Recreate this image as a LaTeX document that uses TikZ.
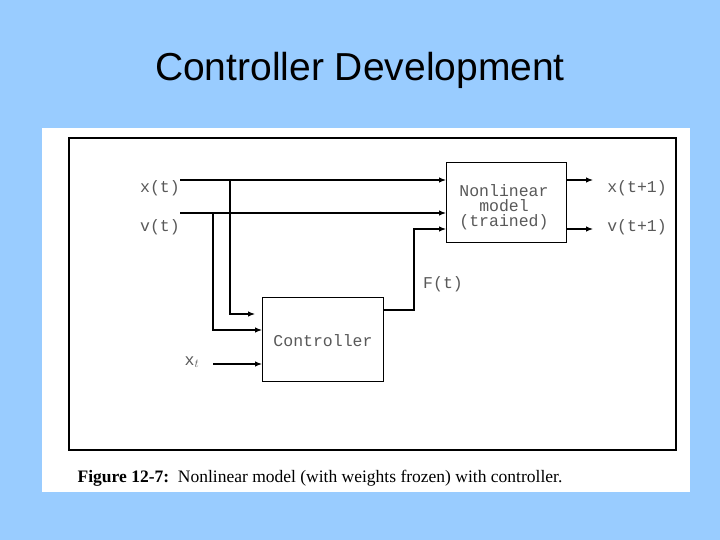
\documentclass[tikz,border=0pt]{standalone}
\usepackage{fontspec}
\setmainfont{Liberation Serif}
\setsansfont{Liberation Sans}
\setmonofont{Liberation Mono}
\usetikzlibrary{arrows.meta}
\begin{document}
\begin{tikzpicture}[x=1pt,y=-1pt,
  blk/.style={draw,line width=1.2pt,inner sep=0pt,anchor=north west},
  lbl/.style={font=\ttfamily\fontsize{16.5}{18}\selectfont,text=black!65},
  con/.style={line width=1.1pt,-{Latex[length=7pt,width=5.5pt]}}]
\fill[fill={rgb,255:red,153;green,204;blue,255}] (0,0) rectangle (720,540);
\useasboundingbox (0,0) rectangle (720,540);
\fill[white] (42,128) rectangle (690,492);
\draw[line width=1.2pt] (69,450) -- (69,138) -- (676,138) -- (676,450) -- cycle;
\node[font=\sffamily\fontsize{39}{44}\selectfont] (title) at (360,70) {Controller Development};
\node[font=\fontsize{17.5}{20}\selectfont] (cap) at (320,478) {\textbf{Figure 12-7:}\ \ Nonlinear model (with weights frozen) with controller.};
\node[blk,minimum width=120pt,minimum height=80pt] (nm) at (446,162) {};
\node[lbl,align=center] (nmt) at (504,207) {Nonlinear\\[-3pt]model\\[-3pt](trained)};
\node[blk,minimum width=121pt,minimum height=84pt] (ct) at (262,297) {};
\node[lbl] (ctt) at (323,341) {Controller};
\node[lbl] (xl) at (160,188) {x(t)};
\node[lbl] (vl) at (160,227) {v(t)};
\node[lbl] (xo) at (637,188) {x(t+1)};
\node[lbl] (vo) at (637,227) {v(t+1)};
\node[lbl] (fl) at (443,284) {F(t)};
\node[lbl] (xtl) at (192,362) {x$_t$};
\coordinate (xs) at (180,180);
\coordinate (vs) at (180,213);
\coordinate (xb) at (230,180);
\coordinate (vb) at (213,213);
\coordinate (xts) at (213,364);
\coordinate (xe) at (593,180);
\coordinate (ve) at (593,229);
\draw[con] (xs) -- (nm.north west |- xs);
\draw[con] (vs) -- (nm.north west |- vs);
\draw[con] (xb) |- (255,314);
\draw[con] (vb) |- (ct.north west |- 0,330);
\draw[con] (xts) -- (ct.north west |- xts);
\draw[con] (ct.north east |- 0,310) -| (414,229) -- (nm.north west |- 0,229);
\draw[con] (nm.north east |- xe) -- (xe);
\draw[con] (nm.north east |- ve) -- (ve);
\end{tikzpicture}
\end{document}
